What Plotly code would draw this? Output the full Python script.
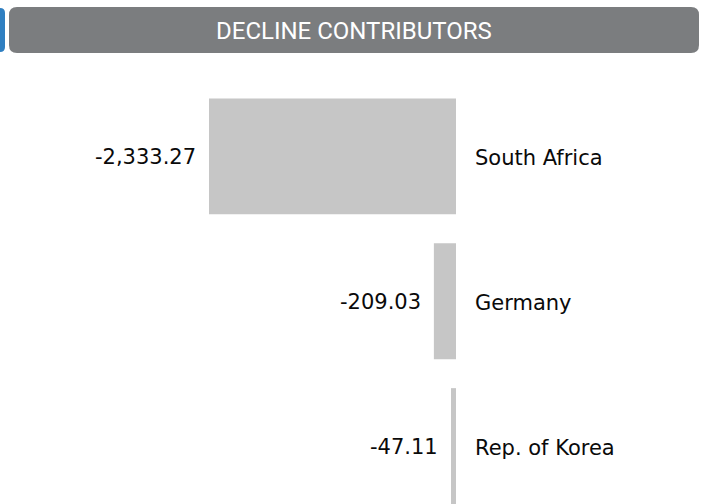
import plotly.graph_objects as go

# Decline contributors: change values by country
countries = ["South Africa", "Germany", "Rep. of Korea"]
changes = [-2333.27, -209.03, -47.11]
value_labels = ["-2,333.27", "-209.03", "-47.11"]
header_text = "DECLINE CONTRIBUTORS"

W, H = 706, 504
TOP = 84  # plot area starts below the header band
PLOT_H = H - TOP

BAR_COLOR = "#c6c6c6"
HEADER_COLOR = "#7b7d7f"
ACCENT_COLOR = "#2f7fc1"
LABEL_FONT = dict(family="DejaVu Sans", size=21, color="#0a0a0a")


def px(x):
    return x / W


def py(y):
    return (H - y) / PLOT_H


def rounded_rect(x0, y0, x1, y1, r):
    """SVG path of a rounded rectangle given in pixel coordinates (paper units)."""
    pts = [
        f"M {px(x0 + r)},{py(y0)}",
        f"L {px(x1 - r)},{py(y0)}",
        f"Q {px(x1)},{py(y0)} {px(x1)},{py(y0 + r)}",
        f"L {px(x1)},{py(y1 - r)}",
        f"Q {px(x1)},{py(y1)} {px(x1 - r)},{py(y1)}",
        f"L {px(x0 + r)},{py(y1)}",
        f"Q {px(x0)},{py(y1)} {px(x0)},{py(y1 - r)}",
        f"L {px(x0)},{py(y0 + r)}",
        f"Q {px(x0)},{py(y0)} {px(x0 + r)},{py(y0)}",
        "Z",
    ]
    return " ".join(pts)


def right_rounded(x0, y0, x1, y1, r):
    pts = [
        f"M {px(x0)},{py(y0)}",
        f"L {px(x1 - r)},{py(y0)}",
        f"Q {px(x1)},{py(y0)} {px(x1)},{py(y0 + r)}",
        f"L {px(x1)},{py(y1 - r)}",
        f"Q {px(x1)},{py(y1)} {px(x1 - r)},{py(y1)}",
        f"L {px(x0)},{py(y1)}",
        "Z",
    ]
    return " ".join(pts)


fig = go.Figure(
    go.Bar(
        x=changes,
        y=countries,
        orientation="h",
        marker=dict(color=BAR_COLOR, line=dict(width=0)),
        hoverinfo="skip",
    )
)

# zero line sits at x=456 px; scale from the largest bar
zero_px = 456
scale = (456 - 209) / abs(min(changes))  # pixels per unit
x_min = -zero_px / scale
x_max = (W - zero_px) / scale

annotations = []
for c, v, lab in zip(countries, changes, value_labels):
    annotations.append(dict(
        x=v, y=c, xref="x", yref="y", text=lab, showarrow=False,
        xanchor="right", yanchor="middle", xshift=-11, yshift=-1,
        font=LABEL_FONT,
    ))
    annotations.append(dict(
        x=0, y=c, xref="x", yref="y", text=c, showarrow=False,
        xanchor="left", yanchor="middle", xshift=17, yshift=-2,
        font=LABEL_FONT,
    ))

annotations.append(dict(
    x=px(354), y=py(31), xref="paper", yref="paper", text=header_text,
    showarrow=False, xanchor="center", yanchor="middle",
    font=dict(family="Roboto", size=24, color="white"),
))

fig.update_layout(
    width=W, height=H,
    margin=dict(l=0, r=0, t=TOP, b=0, pad=0),
    paper_bgcolor="white", plot_bgcolor="white",
    bargap=0.2,
    showlegend=False,
    xaxis=dict(range=[x_min, x_max], visible=False, fixedrange=True),
    yaxis=dict(range=[2.4, -0.5], visible=False, fixedrange=True,
               categoryorder="array", categoryarray=countries),
    shapes=[
        dict(type="path", xref="paper", yref="paper",
             path=rounded_rect(9, 7, 699, 53, 8),
             fillcolor=HEADER_COLOR, line=dict(width=0), layer="above"),
        dict(type="path", xref="paper", yref="paper",
             path=right_rounded(-2, 8, 5, 52, 5),
             fillcolor=ACCENT_COLOR, line=dict(width=0), layer="above"),
    ],
    annotations=annotations,
)

fig.write_html("out.html")
